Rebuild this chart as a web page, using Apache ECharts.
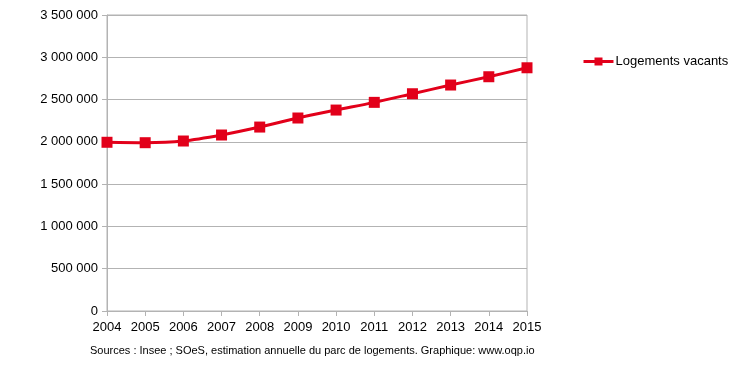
<!DOCTYPE html>
<html><head><meta charset="utf-8">
<script src="https://cdn.jsdelivr.net/npm/echarts@6/dist/echarts.min.js"></script>
<style>html,body{margin:0;padding:0;background:#fff}#c{width:756px;height:378px}</style>
</head><body><div id="c"></div>
<script>
const years = ['2004','2005','2006','2007','2008','2009','2010','2011','2012','2013','2014','2015'];
const vacants = [1995000,1990000,2010000,2081000,2175000,2282000,2376000,2467000,2569000,2672000,2770000,2876000];
const seriesName = 'Logements vacants';
const sourceText = 'Sources : Insee ; SOeS, estimation annuelle du parc de logements. Graphique: www.oqp.io';

const fmt = v => String(v).replace(/\B(?=(\d{3})+(?!\d))/g, ' ');
const chart = echarts.init(document.getElementById('c'));
chart.setOption({
  animation: false,
  textStyle: {fontFamily: 'Liberation Sans'},
  grid: {left: 107, right: 229, top: 15, bottom: 67, show: true, borderColor: '#b3b3b3', borderWidth: 1, backgroundColor: 'transparent'},
  legend: {
    left: 577, top: 50, itemWidth: 30, itemHeight: 10, itemGap: 8,
    data: [{name: seriesName}],
    lineStyle: {width: 3},
    textStyle: {fontSize: 13, color: '#000', fontFamily: 'Liberation Sans', padding: [0, 0, 0, -3]}
  },
  graphic: [{type: 'text', left: 90, top: 345, style: {text: sourceText, fontSize: 11, fill: '#000', fontFamily: 'Liberation Sans'}}],
  xAxis: {
    type: 'category', data: years, boundaryGap: false,
    axisLine: {lineStyle: {color: '#b3b3b3'}},
    axisTick: {show: true, length: 5, interval: 0, lineStyle: {color: '#b3b3b3'}, alignWithLabel: true},
    axisLabel: {color: '#000', fontSize: 13, margin: 10, interval: 0, fontFamily: 'Liberation Sans'},
    splitLine: {show: false}
  },
  yAxis: {
    type: 'value', min: 0, max: 3500000, interval: 500000,
    axisLine: {show: true, lineStyle: {color: '#b3b3b3'}},
    axisTick: {show: true, length: 5, lineStyle: {color: '#b3b3b3'}},
    axisLabel: {color: '#000', fontSize: 13, margin: 9, formatter: fmt, fontFamily: 'Liberation Sans'},
    splitLine: {show: true, lineStyle: {color: '#b3b3b3'}}
  },
  series: [{
    name: seriesName, type: 'line', data: vacants, smooth: 0.3,
    symbol: 'rect', symbolSize: 11,
    lineStyle: {color: '#e2001a', width: 3},
    itemStyle: {color: '#e2001a'}
  }]
});
</script></body></html>
